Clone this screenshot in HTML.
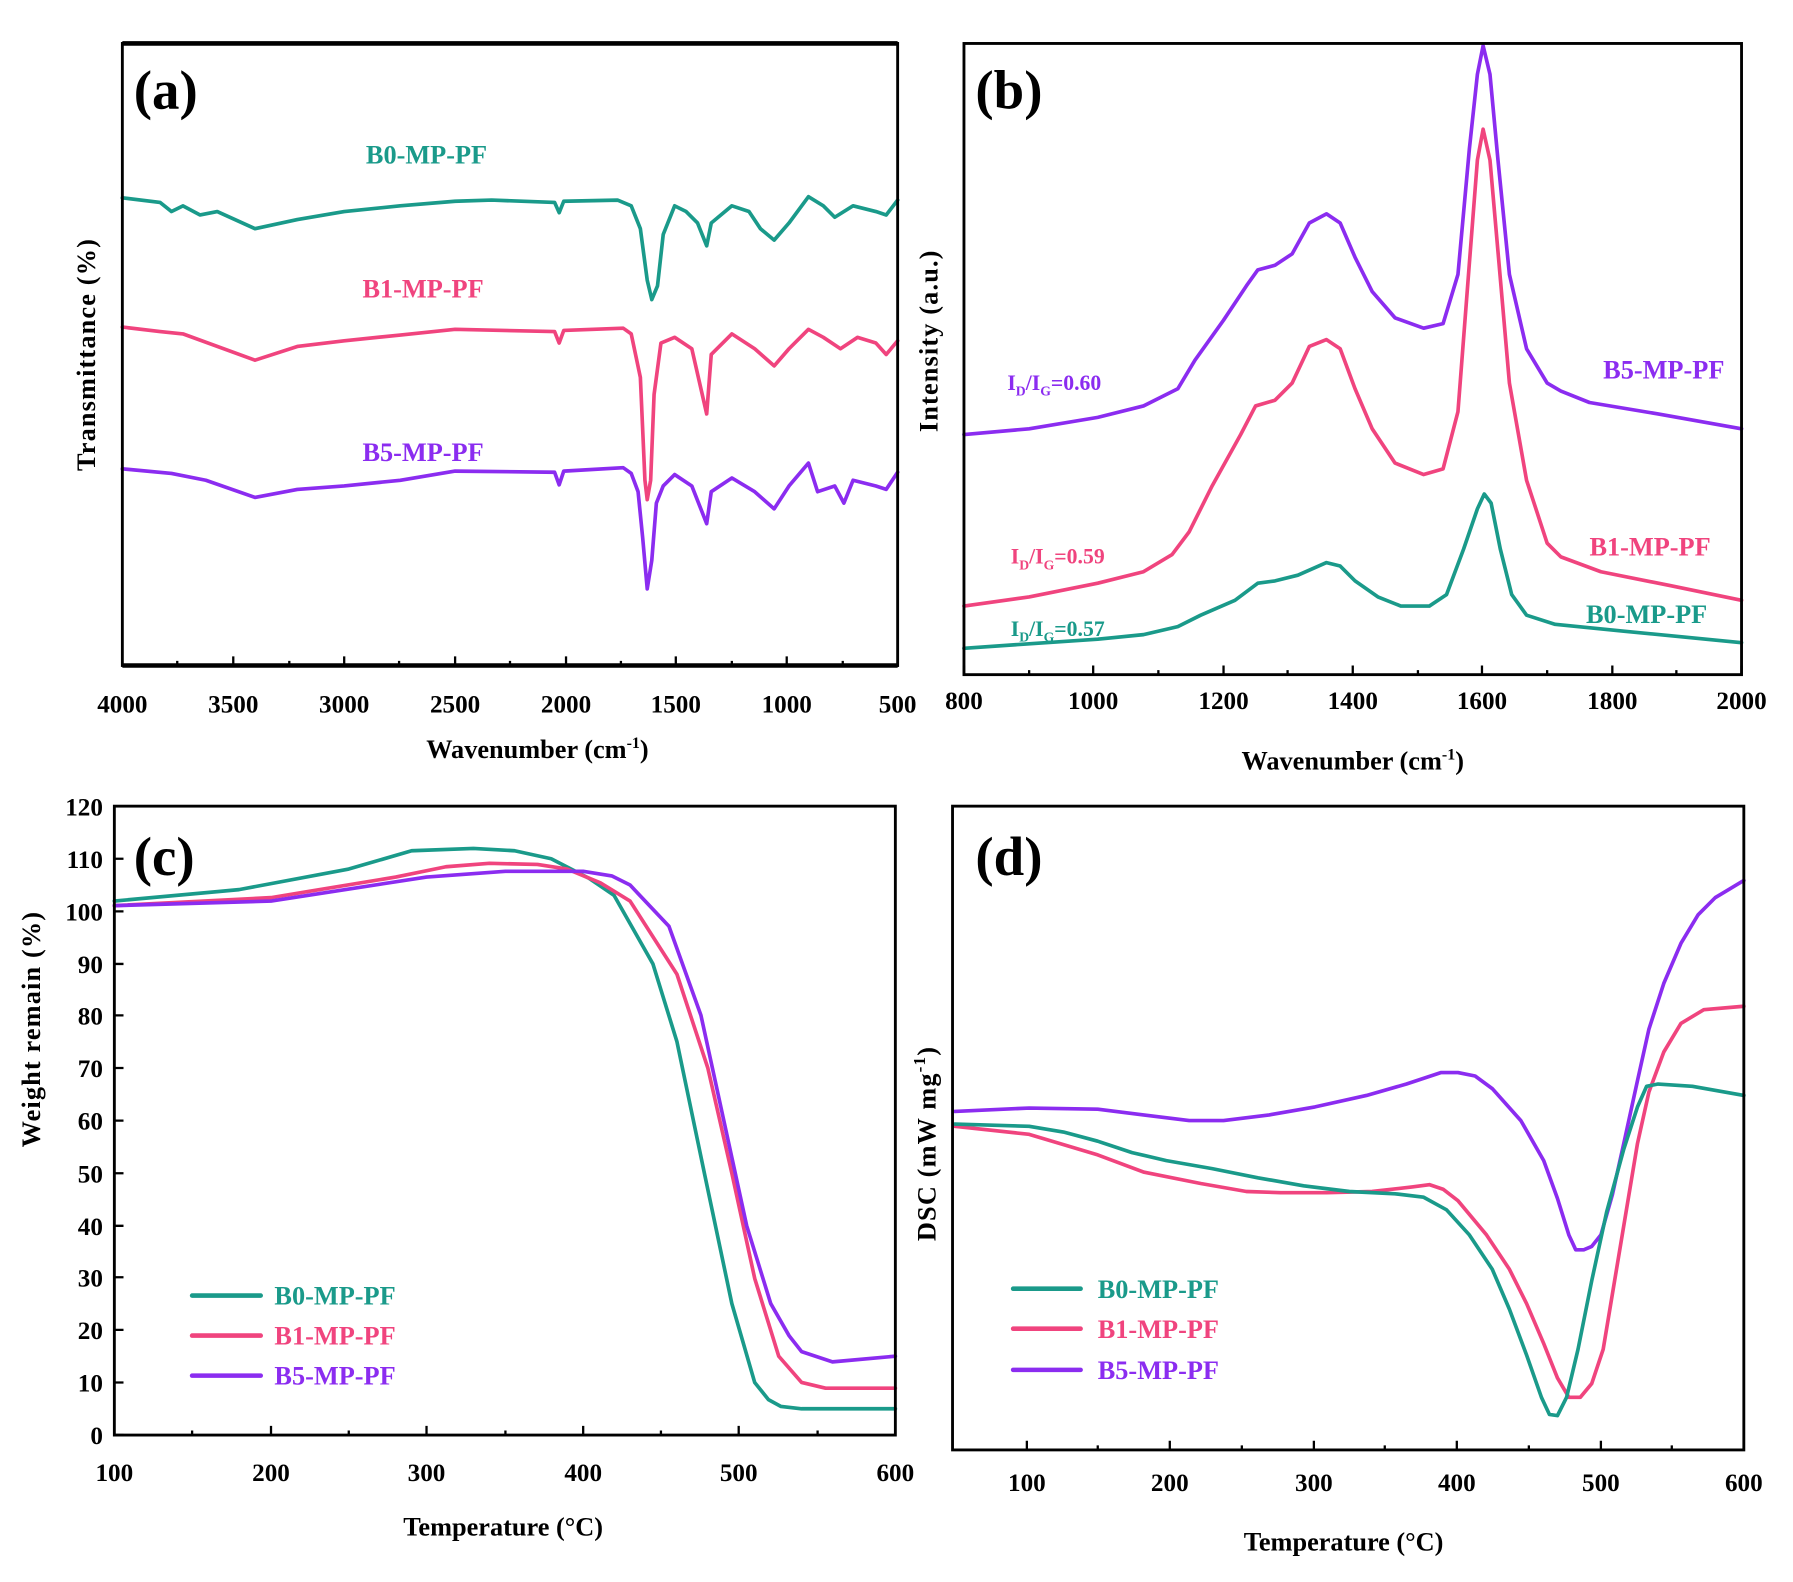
<!DOCTYPE html>
<html><head><meta charset="utf-8"><style>
html,body{margin:0;padding:0;background:#fff}
svg{display:block}
text{font-family:"Liberation Serif",serif;font-weight:bold}
</style></head><body>
<svg width="1793" height="1582" viewBox="0 0 1568 1383.5" preserveAspectRatio="none" xmlns="http://www.w3.org/2000/svg">
<rect width="1568" height="1384" fill="#fff"/>
<g fill="none" stroke-width="3.2" stroke-linejoin="round" stroke-linecap="round">
<!-- Panel a -->
<polyline stroke="#1a9a8a" points="107,173 140,177 150,185 160,180 175,188 190,185 223,200 260,192 301,185 350,180 398,176 430,175 485,177 489,186 493,176 540,175 552,180 560,200 566,245 570,262 575,250 580,205 590,180 600,185 610,195 618,215 622,195 640,180 655,185 665,200 677,210 690,195 707,172 720,180 730,190 746,180 766,185 775,188 785,175"/>
<polyline stroke="#f0447e" points="107,286 140,290 160,292 223,315 260,303 301,298 350,293 398,288 485,290 489,300 493,289 545,287 552,292 560,330 564,420 566,437 569,420 572,345 578,300 590,295 605,305 618,362 622,310 640,292 660,305 677,320 690,305 707,288 720,295 735,305 750,295 766,300 775,310 785,298"/>
<polyline stroke="#8b2cf0" points="107,410 150,414 180,420 223,435 260,428 301,425 350,420 398,412 485,413 489,424 493,412 545,409 552,414 558,430 562,470 566,515 570,490 574,440 580,425 590,415 605,425 618,458 622,430 640,418 660,430 677,445 690,425 707,405 715,430 730,425 738,440 746,420 766,425 775,428 785,413"/>
<!-- Panel b -->
<polyline stroke="#8b2cf0" points="843,380 900,375 960,365 1000,355 1030,340 1045,315 1070,280 1090,250 1100,236 1115,232 1130,222 1145,195 1160,187 1172,195 1185,225 1200,255 1220,278 1245,287 1262,283 1275,240 1285,130 1292,65 1297,40 1303,65 1310,140 1320,240 1335,305 1353,335 1365,342 1390,352 1450,362 1523,375"/>
<polyline stroke="#f0447e" points="843,530 900,522 960,510 1000,500 1025,485 1040,465 1060,425 1085,380 1098,355 1115,350 1130,335 1145,303 1160,297 1172,305 1185,340 1200,375 1220,405 1245,415 1262,410 1275,360 1285,230 1292,140 1297,113 1303,140 1310,220 1320,335 1335,420 1353,475 1365,487 1400,500 1460,512 1523,525"/>
<polyline stroke="#1a9a8a" points="843,567 900,563 960,559 1000,555 1030,548 1050,538 1080,525 1100,510 1115,508 1135,503 1160,492 1172,495 1185,508 1205,522 1225,530 1250,530 1265,520 1280,480 1292,445 1298,432 1304,440 1312,480 1322,520 1335,538 1360,546 1420,552 1523,562"/>
<!-- Panel c -->
<polyline stroke="#1a9a8a" points="100,788 209,778 305,760 360,744 414,742 450,744 482,751 515,768 537,783 571,843 592,911 616,1026 640,1140 660,1209 672,1224 683,1230 701,1232 783,1232"/>
<polyline stroke="#f0447e" points="100,792 237,785 346,767 390,758 428,755 470,756 496,760 525,772 551,788 592,852 619,934 640,1026 660,1118 681,1186 701,1209 722,1214 783,1214"/>
<polyline stroke="#8b2cf0" points="100,792 237,788 373,767 442,762 510,762 535,766 551,774 585,810 613,888 633,980 653,1072 674,1140 690,1168 701,1182 728,1191 783,1186"/>
<!-- Panel d -->
<polyline stroke="#8b2cf0" points="835,972 900,969 960,970 1000,975 1040,980 1070,980 1110,975 1150,968 1195,958 1230,948 1260,938 1275,938 1290,941 1305,952 1330,980 1350,1015 1362,1048 1372,1080 1378,1093 1385,1093 1392,1090 1400,1080 1410,1045 1420,1000 1432,945 1442,900 1455,860 1470,825 1485,800 1500,785 1525,770"/>
<polyline stroke="#f0447e" points="835,985 900,992 960,1010 1000,1025 1050,1035 1090,1042 1120,1043 1160,1043 1200,1042 1235,1038 1250,1036 1262,1040 1275,1050 1300,1080 1320,1110 1335,1140 1350,1175 1362,1205 1372,1222 1382,1222 1392,1210 1402,1180 1412,1120 1422,1060 1432,1000 1442,955 1455,920 1470,895 1490,883 1525,880"/>
<polyline stroke="#1a9a8a" points="835,983 900,985 930,990 960,998 990,1008 1020,1015 1060,1022 1100,1030 1140,1037 1180,1042 1220,1044 1245,1047 1265,1058 1285,1080 1305,1110 1320,1145 1335,1185 1348,1222 1355,1237 1362,1238 1370,1222 1380,1180 1392,1120 1405,1060 1420,1005 1432,968 1440,950 1450,948 1480,950 1525,958"/>
<!-- legends -->
<line stroke="#1a9a8a" x1="168" y1="1133" x2="228" y2="1133" stroke-width="4"/>
<line stroke="#f0447e" x1="168" y1="1168" x2="228" y2="1168" stroke-width="4"/>
<line stroke="#8b2cf0" x1="168" y1="1203" x2="228" y2="1203" stroke-width="4"/>
<line stroke="#1a9a8a" x1="886" y1="1127" x2="945" y2="1127" stroke-width="4"/>
<line stroke="#f0447e" x1="886" y1="1162" x2="945" y2="1162" stroke-width="4"/>
<line stroke="#8b2cf0" x1="886" y1="1198" x2="945" y2="1198" stroke-width="4"/>
</g>
<!-- axes boxes -->
<g fill="none" stroke="#000" stroke-width="2.5">
<rect x="107" y="38" width="678" height="544"/>
<line x1="107" y1="38" x2="785" y2="38" stroke-width="4"/>
<line x1="107" y1="582" x2="785" y2="582" stroke-width="4"/>
<rect x="843" y="38" width="680" height="552"/>
<rect x="100" y="705" width="683" height="550"/>
<rect x="833" y="705" width="692" height="563"/>
</g>
<g stroke="#000" stroke-width="2">
<path d="M107,582v-8M204,582v-8M301,582v-8M398,582v-8M495,582v-8M591,582v-8M688,582v-8M785,582v-8M155,582v-4M253,582v-4M349,582v-4M446,582v-4M543,582v-4M640,582v-4M737,582v-4"/>
<path d="M843,590v-8M956,590v-8M1070,590v-8M1183,590v-8M1296,590v-8M1410,590v-8M1523,590v-8M900,590v-4M1013,590v-4M1126,590v-4M1240,590v-4M1353,590v-4M1466,590v-4"/>
<path d="M100,1255v-8M237,1255v-8M373,1255v-8M510,1255v-8M646,1255v-8M783,1255v-8M168,1255v-4M305,1255v-4M442,1255v-4M578,1255v-4M715,1255v-4"/>
<path d="M100,1255h8M100,1209h8M100,1163h8M100,1117h8M100,1072h8M100,1026h8M100,980h8M100,934h8M100,888h8M100,843h8M100,797h8M100,751h8M100,705h8"/>
<path d="M898,1268v-8M1023,1268v-8M1149,1268v-8M1274,1268v-8M1400,1268v-8M1525,1268v-8M960,1268v-4M1086,1268v-4M1211,1268v-4M1337,1268v-4M1462,1268v-4"/>
</g>
<!-- tick labels -->
<g font-size="22" text-anchor="middle" fill="#000">
<text x="107" y="623">4000</text><text x="204" y="623">3500</text><text x="301" y="623">3000</text><text x="398" y="623">2500</text><text x="495" y="623">2000</text><text x="591" y="623">1500</text><text x="688" y="623">1000</text><text x="785" y="623">500</text>
<text x="843" y="620">800</text><text x="956" y="620">1000</text><text x="1070" y="620">1200</text><text x="1183" y="620">1400</text><text x="1296" y="620">1600</text><text x="1410" y="620">1800</text><text x="1523" y="620">2000</text>
<text x="100" y="1295">100</text><text x="237" y="1295">200</text><text x="373" y="1295">300</text><text x="510" y="1295">400</text><text x="646" y="1295">500</text><text x="783" y="1295">600</text>
<text x="898" y="1304">100</text><text x="1023" y="1304">200</text><text x="1149" y="1304">300</text><text x="1274" y="1304">400</text><text x="1400" y="1304">500</text><text x="1525" y="1304">600</text>
</g>
<g font-size="22" text-anchor="end" fill="#000">
<text x="90" y="1263">0</text><text x="90" y="1217">10</text><text x="90" y="1171">20</text><text x="90" y="1125">30</text><text x="90" y="1080">40</text><text x="90" y="1034">50</text><text x="90" y="988">60</text><text x="90" y="942">70</text><text x="90" y="896">80</text><text x="90" y="851">90</text><text x="90" y="805">100</text><text x="90" y="759">110</text><text x="90" y="713">120</text>
</g>
<!-- axis titles -->
<g font-size="23" text-anchor="middle" fill="#000">
<text x="470" y="663">Wavenumber (cm<tspan font-size="14" dy="-9">-1</tspan><tspan dy="9">)</tspan></text>
<text x="1183" y="673">Wavenumber (cm<tspan font-size="14" dy="-9">-1</tspan><tspan dy="9">)</tspan></text>
<text x="440" y="1343">Temperature (°C)</text>
<text x="1175" y="1356">Temperature (°C)</text>
<text transform="translate(83,310) rotate(-90)" letter-spacing="1">Transmittance (%)</text>
<text transform="translate(820,298) rotate(-90)" letter-spacing="1">Intensity (a.u.)</text>
<text transform="translate(35,900) rotate(-90)" letter-spacing="1">Weight remain (%)</text>
<text transform="translate(818,1000) rotate(-90)" letter-spacing="1">DSC (mW mg<tspan font-size="15" dy="-9">-1</tspan><tspan dy="9">)</tspan></text>
</g>
<!-- panel letters -->
<g font-size="48" fill="#000">
<text x="117" y="95">(a)</text><text x="853" y="95">(b)</text>
<text x="117" y="765">(c)</text><text x="853" y="765">(d)</text>
</g>
<!-- series labels -->
<g font-size="23" text-anchor="middle">
<text x="373" y="143" fill="#1a9a8a">B0-MP-PF</text>
<text x="370" y="260" fill="#f0447e">B1-MP-PF</text>
<text x="370" y="403" fill="#8b2cf0">B5-MP-PF</text>
<text x="1455" y="331" fill="#8b2cf0">B5-MP-PF</text>
<text x="1443" y="486" fill="#f0447e">B1-MP-PF</text>
<text x="1440" y="545" fill="#1a9a8a">B0-MP-PF</text>
</g>
<g font-size="19" text-anchor="middle">
<text x="922" y="341" fill="#8b2cf0">I<tspan font-size="12" dy="5">D</tspan><tspan dy="-5">/I</tspan><tspan font-size="12" dy="5">G</tspan><tspan dy="-5">=0.60</tspan></text>
<text x="925" y="493" fill="#f0447e">I<tspan font-size="12" dy="5">D</tspan><tspan dy="-5">/I</tspan><tspan font-size="12" dy="5">G</tspan><tspan dy="-5">=0.59</tspan></text>
<text x="925" y="556" fill="#1a9a8a">I<tspan font-size="12" dy="5">D</tspan><tspan dy="-5">/I</tspan><tspan font-size="12" dy="5">G</tspan><tspan dy="-5">=0.57</tspan></text>
</g>
<g font-size="23">
<text x="240" y="1141" fill="#1a9a8a">B0-MP-PF</text>
<text x="240" y="1176" fill="#f0447e">B1-MP-PF</text>
<text x="240" y="1211" fill="#8b2cf0">B5-MP-PF</text>
<text x="960" y="1135" fill="#1a9a8a">B0-MP-PF</text>
<text x="960" y="1170" fill="#f0447e">B1-MP-PF</text>
<text x="960" y="1206" fill="#8b2cf0">B5-MP-PF</text>
</g>
</svg>
</body></html>
